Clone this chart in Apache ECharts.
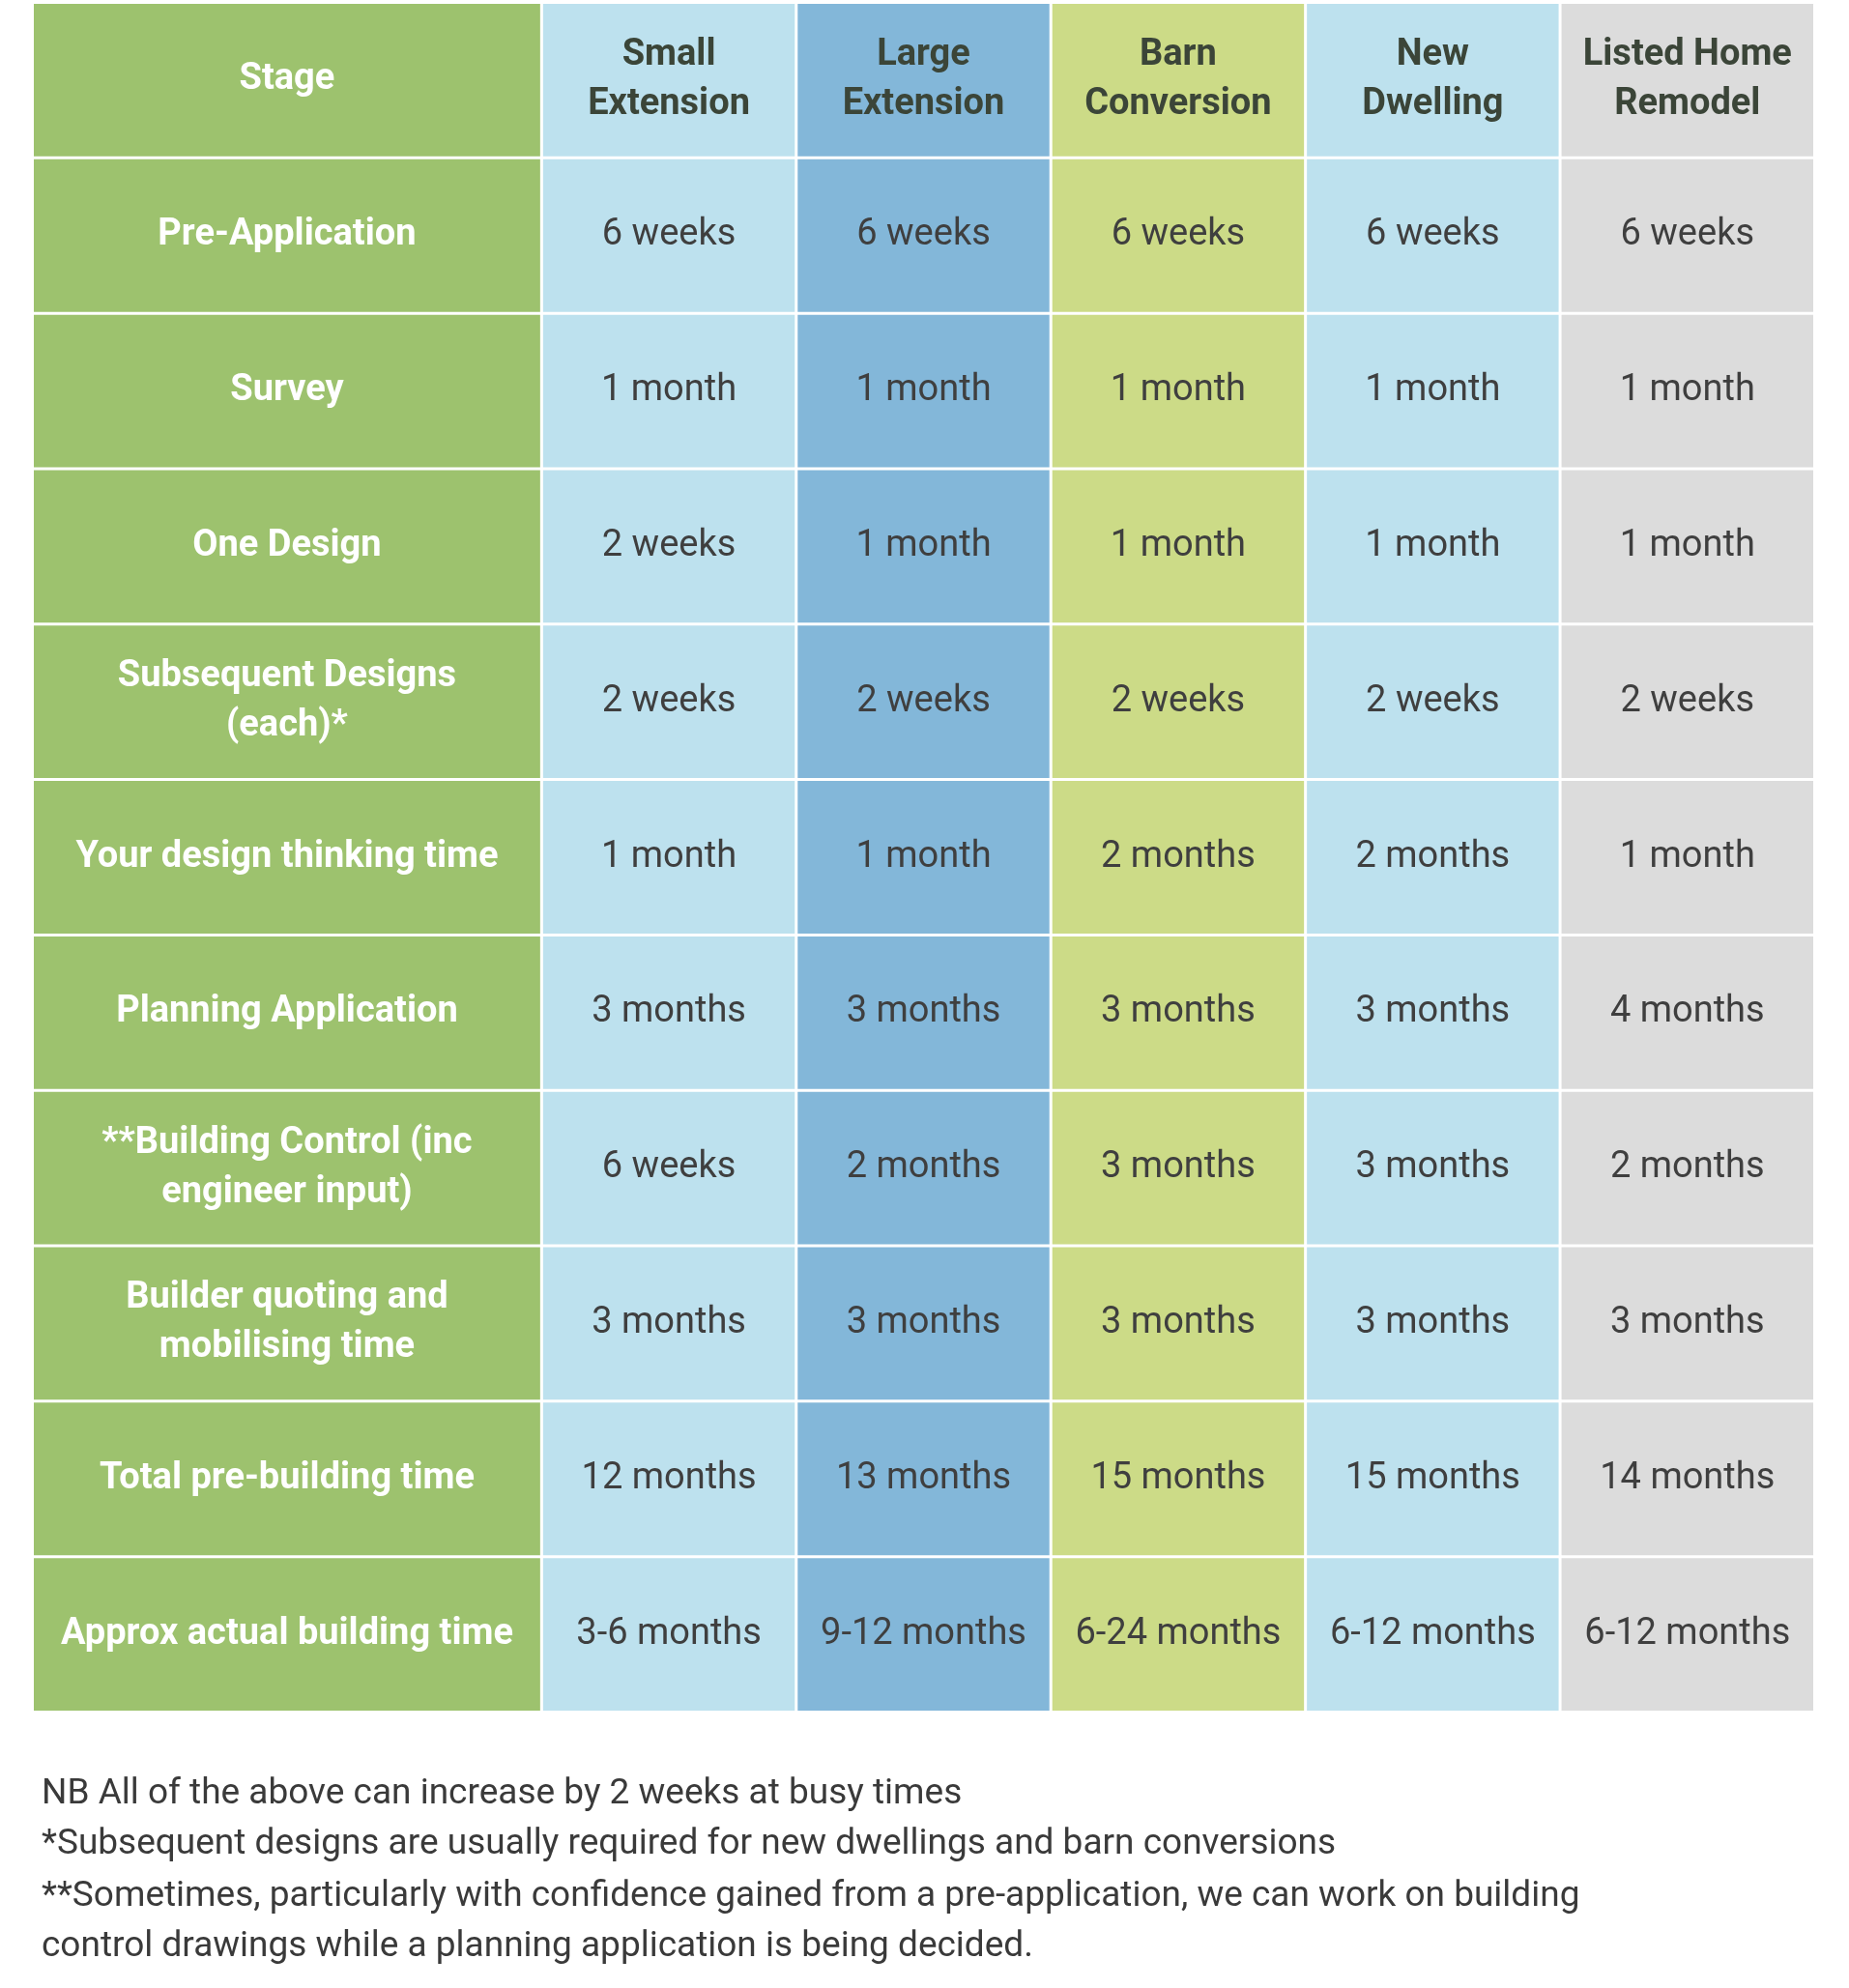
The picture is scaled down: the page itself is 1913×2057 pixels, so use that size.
<!DOCTYPE html>
<html>
<head>
<meta charset="utf-8">
<script src="https://cdn.jsdelivr.net/npm/echarts@6/dist/echarts.min.js"></script>
<style>
html, body { margin: 0; padding: 0; background: #fff; }
#chart { width: 1913px; height: 2057px; }
</style>
</head>
<body>
<div id="chart"></div>
<script>
var columns = ['Small\nExtension', 'Large\nExtension', 'Barn\nConversion', 'New\nDwelling', 'Listed Home\nRemodel'];
var columnColors = ['#bde1ee', '#83b7d9', '#ccdb87', '#bde1ee', '#dcdcdc'];
var stages = [
    'Pre-Application',
    'Survey',
    'One Design',
    'Subsequent Designs\n(each)*',
    'Your design thinking time',
    'Planning Application',
    '**Building Control (inc\nengineer input)',
    'Builder quoting and\nmobilising time',
    'Total pre-building time',
    'Approx actual building time'
];
var smallExtension = ['6 weeks', '1 month', '2 weeks', '2 weeks', '1 month', '3 months', '6 weeks', '3 months', '12 months', '3-6 months'];
var largeExtension = ['6 weeks', '1 month', '1 month', '2 weeks', '1 month', '3 months', '2 months', '3 months', '13 months', '9-12 months'];
var barnConversion = ['6 weeks', '1 month', '1 month', '2 weeks', '2 months', '3 months', '3 months', '3 months', '15 months', '6-24 months'];
var newDwelling = ['6 weeks', '1 month', '1 month', '2 weeks', '2 months', '3 months', '3 months', '3 months', '15 months', '6-12 months'];
var listedHome = ['6 weeks', '1 month', '1 month', '2 weeks', '1 month', '4 months', '2 months', '3 months', '14 months', '6-12 months'];
var notes = [
    'NB All of the above can increase by 2 weeks at busy times',
    '*Subsequent designs are usually required for new dwellings and barn conversions',
    '**Sometimes, particularly with confidence gained from a pre-application, we can work on building',
    'control drawings while a planning application is being decided.'
];

var valueCols = [smallExtension, largeExtension, barnConversion, newDwelling, listedHome];
var rowNames = ['header'].concat(stages);

// data: [xSlot, row, text, kind, colIndex]
var cells = [];
cells.push([0, 0, 'Stage', 'stage', -1]);
columns.forEach(function (c, i) { cells.push([i + 2, 0, c, 'head', i]); });
stages.forEach(function (s, r) {
    cells.push([0, r + 1, s, 'stage', -1]);
    valueCols.forEach(function (col, i) { cells.push([i + 2, r + 1, col[r], 'value', i]); });
});

var chart = echarts.init(document.getElementById('chart'));
chart.setOption({
    animation: false,
    grid: { left: 35, right: 34, top: 4, bottom: 284 },
    xAxis: { type: 'category', data: ['s0', 's1', 'c0', 'c1', 'c2', 'c3', 'c4'], show: false },
    yAxis: { type: 'category', data: rowNames, inverse: true, show: false },
    series: [{
        type: 'custom',
        data: cells,
        encode: { x: 0, y: 1 },
        renderItem: function (params, api) {
            var x = api.value(0), y = api.value(1);
            var kind = api.value(3);
            var ci = api.value(4);
            var size = api.size([1, 1]);
            var c = api.coord([x, y]);
            var w = size[0], h = size[1];
            var x0 = c[0] - w / 2;
            if (kind === 'stage') w = w * 2;
            var y0 = c[1] - h / 2;
            var gap = 3;
            var fill = kind === 'stage' ? '#9dc26e' : columnColors[ci];
            var textColor = kind === 'stage' ? '#ffffff' : (kind === 'head' ? '#3b4538' : '#3f3f3f');
            return {
                type: 'group',
                children: [{
                    type: 'rect',
                    shape: { x: x0, y: y0, width: w - gap, height: h - gap },
                    style: { fill: fill }
                }, {
                    type: 'text',
                    style: {
                        x: x0 + (w - gap) / 2,
                        y: y0 + (h - gap) / 2,
                        text: api.value(2),
                        align: 'center',
                        verticalAlign: 'middle',
                        fill: textColor,
                        font: (kind === 'value' ? 'normal 38px' : 'bold 38px') + ' Roboto',
                        lineHeight: 51
                    }
                }]
            };
        }
    }],
    graphic: notes.map(function (t, i) {
        return {
            type: 'text',
            left: 43,
            top: [1838, 1890, 1944, 1996][i],
            style: { text: t, fill: '#3a3a3a', font: 'normal 37px Roboto' }
        };
    })
});
</script>
</body>
</html>
